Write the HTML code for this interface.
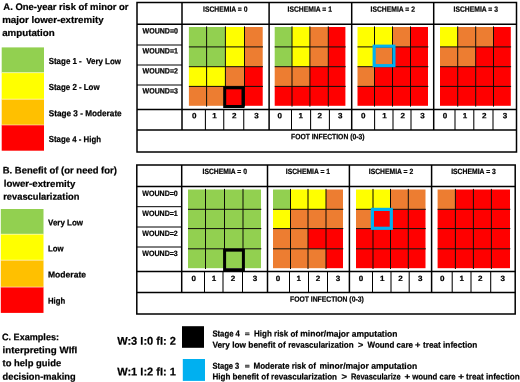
<!DOCTYPE html>
<html><head><meta charset="utf-8"><title>WIfI</title>
<style>html,body{margin:0;padding:0;background:#fff}svg{display:block}text{white-space:pre;stroke:#000;stroke-width:0.22px;stroke-linejoin:round}</style></head>
<body>
<svg width="520" height="382" viewBox="0 0 520 382" font-family='"Liberation Sans", sans-serif' font-weight="bold" fill="#000" text-rendering="geometricPrecision">
<rect x="0.00" y="0.00" width="520.00" height="382.00" fill="#fff"/>
<text x="3.30" y="9.95" font-size="9.50" textLength="125.20" lengthAdjust="spacingAndGlyphs" transform="rotate(0.06 3.30 9.95)">A. One-year risk of minor or</text>
<text x="2.20" y="22.95" font-size="9.50" textLength="101.40" lengthAdjust="spacingAndGlyphs" transform="rotate(0.06 2.20 22.95)">major lower-extremity</text>
<text x="2.20" y="36.05" font-size="9.50" textLength="52.50" lengthAdjust="spacingAndGlyphs" transform="rotate(0.06 2.20 36.05)">amputation</text>
<rect x="1.70" y="47.40" width="42.30" height="25.30" fill="#92D050"/>
<rect x="1.70" y="72.70" width="42.30" height="26.50" fill="#FFFF00"/>
<rect x="1.70" y="99.20" width="42.30" height="25.80" fill="#FFC000"/>
<rect x="1.70" y="125.00" width="42.30" height="25.70" fill="#FF0000"/>
<line x1="2.00" y1="72.70" x2="44.00" y2="72.70" stroke="#ffffff" stroke-width="0.5"/>
<line x1="2.00" y1="99.20" x2="44.00" y2="99.20" stroke="#ffffff" stroke-width="0.5"/>
<line x1="2.00" y1="125.00" x2="44.00" y2="125.00" stroke="#ffffff" stroke-width="0.5"/>
<text x="48.70" y="64.08" font-size="8.73" textLength="72.30" lengthAdjust="spacingAndGlyphs" transform="rotate(0.06 48.70 64.08)">Stage 1 -  Very Low</text>
<text x="48.70" y="90.03" font-size="8.73" textLength="50.90" lengthAdjust="spacingAndGlyphs" transform="rotate(0.06 48.70 90.03)">Stage 2 - Low</text>
<text x="48.70" y="116.17" font-size="8.73" textLength="73.00" lengthAdjust="spacingAndGlyphs" transform="rotate(0.06 48.70 116.17)">Stage 3 - Moderate</text>
<text x="48.70" y="142.12" font-size="8.73" textLength="52.30" lengthAdjust="spacingAndGlyphs" transform="rotate(0.06 48.70 142.12)">Stage 4 - High</text>
<text x="2.70" y="173.45" font-size="9.50" textLength="114.20" lengthAdjust="spacingAndGlyphs" transform="rotate(0.06 2.70 173.45)">B. Benefit of (or need for)</text>
<text x="3.80" y="186.85" font-size="9.50" textLength="71.60" lengthAdjust="spacingAndGlyphs" transform="rotate(0.06 3.80 186.85)">lower-extremity</text>
<text x="3.20" y="199.65" font-size="9.50" textLength="76.20" lengthAdjust="spacingAndGlyphs" transform="rotate(0.06 3.20 199.65)">revascularization</text>
<rect x="0.80" y="209.00" width="42.70" height="25.20" fill="#92D050"/>
<rect x="0.80" y="234.20" width="42.70" height="26.00" fill="#FFFF00"/>
<rect x="0.80" y="260.20" width="42.70" height="26.90" fill="#FFC000"/>
<rect x="0.80" y="287.10" width="42.70" height="25.80" fill="#FF0000"/>
<line x1="0.80" y1="234.20" x2="43.50" y2="234.20" stroke="#ffffff" stroke-width="0.5"/>
<line x1="0.80" y1="260.20" x2="43.50" y2="260.20" stroke="#ffffff" stroke-width="0.5"/>
<line x1="0.80" y1="287.10" x2="43.50" y2="287.10" stroke="#ffffff" stroke-width="0.5"/>
<text x="48.00" y="225.53" font-size="8.73" textLength="35.00" lengthAdjust="spacingAndGlyphs" transform="rotate(0.06 48.00 225.53)">Very Low</text>
<text x="48.00" y="251.43" font-size="8.73" textLength="15.60" lengthAdjust="spacingAndGlyphs" transform="rotate(0.06 48.00 251.43)">Low</text>
<text x="48.00" y="277.52" font-size="8.73" textLength="38.00" lengthAdjust="spacingAndGlyphs" transform="rotate(0.06 48.00 277.52)">Moderate</text>
<text x="48.00" y="303.82" font-size="8.73" textLength="17.20" lengthAdjust="spacingAndGlyphs" transform="rotate(0.06 48.00 303.82)">High</text>
<text x="2.00" y="340.15" font-size="9.50" textLength="57.00" lengthAdjust="spacingAndGlyphs" transform="rotate(0.06 2.00 340.15)">C. Examples:</text>
<text x="2.60" y="353.15" font-size="9.50" textLength="74.70" lengthAdjust="spacingAndGlyphs" transform="rotate(0.06 2.60 353.15)">interpreting WIfI</text>
<text x="2.60" y="366.15" font-size="9.50" textLength="58.60" lengthAdjust="spacingAndGlyphs" transform="rotate(0.06 2.60 366.15)">to help guide</text>
<text x="2.60" y="379.65" font-size="9.50" textLength="73.10" lengthAdjust="spacingAndGlyphs" transform="rotate(0.06 2.60 379.65)">decision-making</text>
<rect x="137.00" y="2.50" width="379.50" height="149.50" fill="#fff"/>
<rect x="188.90" y="27.00" width="17.70" height="19.90" fill="#92D050"/>
<rect x="206.60" y="27.00" width="18.80" height="19.90" fill="#92D050"/>
<rect x="225.40" y="27.00" width="19.10" height="19.90" fill="#FFFF00"/>
<rect x="244.50" y="27.00" width="18.20" height="19.90" fill="#ED7D31"/>
<rect x="188.90" y="46.90" width="17.70" height="19.80" fill="#92D050"/>
<rect x="206.60" y="46.90" width="18.80" height="19.80" fill="#92D050"/>
<rect x="225.40" y="46.90" width="19.10" height="19.80" fill="#FFFF00"/>
<rect x="244.50" y="46.90" width="18.20" height="19.80" fill="#ED7D31"/>
<rect x="188.90" y="66.70" width="17.70" height="19.70" fill="#FFFF00"/>
<rect x="206.60" y="66.70" width="18.80" height="19.70" fill="#FFFF00"/>
<rect x="225.40" y="66.70" width="19.10" height="19.70" fill="#ED7D31"/>
<rect x="244.50" y="66.70" width="18.20" height="19.70" fill="#FF0000"/>
<rect x="188.90" y="86.40" width="17.70" height="19.40" fill="#ED7D31"/>
<rect x="206.60" y="86.40" width="18.80" height="19.40" fill="#ED7D31"/>
<rect x="225.40" y="86.40" width="19.10" height="19.40" fill="#FF0000"/>
<rect x="244.50" y="86.40" width="18.20" height="19.40" fill="#FF0000"/>
<line x1="206.60" y1="26.40" x2="206.60" y2="106.60" stroke="#0c0a04" stroke-width="1.0"/>
<line x1="225.40" y1="26.40" x2="225.40" y2="106.60" stroke="#0c0a04" stroke-width="1.0"/>
<line x1="244.50" y1="26.40" x2="244.50" y2="106.60" stroke="#0c0a04" stroke-width="1.0"/>
<line x1="188.90" y1="46.90" x2="263.00" y2="46.90" stroke="#0c0a04" stroke-width="1.0"/>
<line x1="188.90" y1="66.70" x2="263.00" y2="66.70" stroke="#0c0a04" stroke-width="1.0"/>
<line x1="188.90" y1="86.40" x2="263.00" y2="86.40" stroke="#0c0a04" stroke-width="1.0"/>
<rect x="274.70" y="27.00" width="17.30" height="19.90" fill="#92D050"/>
<rect x="292.00" y="27.00" width="17.90" height="19.90" fill="#FFFF00"/>
<rect x="309.90" y="27.00" width="18.40" height="19.90" fill="#ED7D31"/>
<rect x="328.30" y="27.00" width="17.10" height="19.90" fill="#FF0000"/>
<rect x="274.70" y="46.90" width="17.30" height="19.80" fill="#92D050"/>
<rect x="292.00" y="46.90" width="17.90" height="19.80" fill="#FFFF00"/>
<rect x="309.90" y="46.90" width="18.40" height="19.80" fill="#ED7D31"/>
<rect x="328.30" y="46.90" width="17.10" height="19.80" fill="#FF0000"/>
<rect x="274.70" y="66.70" width="17.30" height="19.70" fill="#ED7D31"/>
<rect x="292.00" y="66.70" width="17.90" height="19.70" fill="#ED7D31"/>
<rect x="309.90" y="66.70" width="18.40" height="19.70" fill="#FF0000"/>
<rect x="328.30" y="66.70" width="17.10" height="19.70" fill="#FF0000"/>
<rect x="274.70" y="86.40" width="17.30" height="19.40" fill="#FF0000"/>
<rect x="292.00" y="86.40" width="17.90" height="19.40" fill="#FF0000"/>
<rect x="309.90" y="86.40" width="18.40" height="19.40" fill="#FF0000"/>
<rect x="328.30" y="86.40" width="17.10" height="19.40" fill="#FF0000"/>
<line x1="292.00" y1="26.40" x2="292.00" y2="106.60" stroke="#0c0a04" stroke-width="1.0"/>
<line x1="309.90" y1="26.40" x2="309.90" y2="106.60" stroke="#0c0a04" stroke-width="1.0"/>
<line x1="328.30" y1="26.40" x2="328.30" y2="106.60" stroke="#0c0a04" stroke-width="1.0"/>
<line x1="274.70" y1="46.90" x2="345.70" y2="46.90" stroke="#0c0a04" stroke-width="1.0"/>
<line x1="274.70" y1="66.70" x2="345.70" y2="66.70" stroke="#0c0a04" stroke-width="1.0"/>
<line x1="274.70" y1="86.40" x2="345.70" y2="86.40" stroke="#0c0a04" stroke-width="1.0"/>
<rect x="357.50" y="27.00" width="17.00" height="19.90" fill="#FFFF00"/>
<rect x="374.50" y="27.00" width="18.00" height="19.90" fill="#FFFF00"/>
<rect x="392.50" y="27.00" width="18.00" height="19.90" fill="#ED7D31"/>
<rect x="410.50" y="27.00" width="17.50" height="19.90" fill="#FF0000"/>
<rect x="357.50" y="46.90" width="17.00" height="19.80" fill="#FFFF00"/>
<rect x="374.50" y="46.90" width="18.00" height="19.80" fill="#ED7D31"/>
<rect x="392.50" y="46.90" width="18.00" height="19.80" fill="#FF0000"/>
<rect x="410.50" y="46.90" width="17.50" height="19.80" fill="#FF0000"/>
<rect x="357.50" y="66.70" width="17.00" height="19.70" fill="#ED7D31"/>
<rect x="374.50" y="66.70" width="18.00" height="19.70" fill="#FF0000"/>
<rect x="392.50" y="66.70" width="18.00" height="19.70" fill="#FF0000"/>
<rect x="410.50" y="66.70" width="17.50" height="19.70" fill="#FF0000"/>
<rect x="357.50" y="86.40" width="17.00" height="19.40" fill="#FF0000"/>
<rect x="374.50" y="86.40" width="18.00" height="19.40" fill="#FF0000"/>
<rect x="392.50" y="86.40" width="18.00" height="19.40" fill="#FF0000"/>
<rect x="410.50" y="86.40" width="17.50" height="19.40" fill="#FF0000"/>
<line x1="374.50" y1="26.40" x2="374.50" y2="106.60" stroke="#0c0a04" stroke-width="1.0"/>
<line x1="392.50" y1="26.40" x2="392.50" y2="106.60" stroke="#0c0a04" stroke-width="1.0"/>
<line x1="410.50" y1="26.40" x2="410.50" y2="106.60" stroke="#0c0a04" stroke-width="1.0"/>
<line x1="357.50" y1="46.90" x2="428.30" y2="46.90" stroke="#0c0a04" stroke-width="1.0"/>
<line x1="357.50" y1="66.70" x2="428.30" y2="66.70" stroke="#0c0a04" stroke-width="1.0"/>
<line x1="357.50" y1="86.40" x2="428.30" y2="86.40" stroke="#0c0a04" stroke-width="1.0"/>
<rect x="440.00" y="27.00" width="17.70" height="19.90" fill="#FFFF00"/>
<rect x="457.70" y="27.00" width="18.00" height="19.90" fill="#ED7D31"/>
<rect x="475.70" y="27.00" width="17.80" height="19.90" fill="#ED7D31"/>
<rect x="493.50" y="27.00" width="17.30" height="19.90" fill="#FF0000"/>
<rect x="440.00" y="46.90" width="17.70" height="19.80" fill="#ED7D31"/>
<rect x="457.70" y="46.90" width="18.00" height="19.80" fill="#ED7D31"/>
<rect x="475.70" y="46.90" width="17.80" height="19.80" fill="#FF0000"/>
<rect x="493.50" y="46.90" width="17.30" height="19.80" fill="#FF0000"/>
<rect x="440.00" y="66.70" width="17.70" height="19.70" fill="#FF0000"/>
<rect x="457.70" y="66.70" width="18.00" height="19.70" fill="#FF0000"/>
<rect x="475.70" y="66.70" width="17.80" height="19.70" fill="#FF0000"/>
<rect x="493.50" y="66.70" width="17.30" height="19.70" fill="#FF0000"/>
<rect x="440.00" y="86.40" width="17.70" height="19.40" fill="#FF0000"/>
<rect x="457.70" y="86.40" width="18.00" height="19.40" fill="#FF0000"/>
<rect x="475.70" y="86.40" width="17.80" height="19.40" fill="#FF0000"/>
<rect x="493.50" y="86.40" width="17.30" height="19.40" fill="#FF0000"/>
<line x1="457.70" y1="26.40" x2="457.70" y2="106.60" stroke="#0c0a04" stroke-width="1.0"/>
<line x1="475.70" y1="26.40" x2="475.70" y2="106.60" stroke="#0c0a04" stroke-width="1.0"/>
<line x1="493.50" y1="26.40" x2="493.50" y2="106.60" stroke="#0c0a04" stroke-width="1.0"/>
<line x1="440.00" y1="46.90" x2="511.10" y2="46.90" stroke="#0c0a04" stroke-width="1.0"/>
<line x1="440.00" y1="66.70" x2="511.10" y2="66.70" stroke="#0c0a04" stroke-width="1.0"/>
<line x1="440.00" y1="86.40" x2="511.10" y2="86.40" stroke="#0c0a04" stroke-width="1.0"/>
<rect x="137.00" y="2.50" width="379.50" height="149.50" fill="none" stroke="#000" stroke-width="1.5"/>
<line x1="137.00" y1="24.15" x2="516.50" y2="24.15" stroke="#000" stroke-width="1.5"/>
<line x1="137.00" y1="45.00" x2="182.00" y2="45.00" stroke="#000" stroke-width="1.0"/>
<line x1="137.00" y1="65.00" x2="182.00" y2="65.00" stroke="#000" stroke-width="1.0"/>
<line x1="137.00" y1="85.00" x2="182.00" y2="85.00" stroke="#000" stroke-width="1.0"/>
<line x1="137.00" y1="109.50" x2="516.50" y2="109.50" stroke="#000" stroke-width="1.5"/>
<line x1="137.00" y1="130.00" x2="516.50" y2="130.00" stroke="#000" stroke-width="1.5"/>
<line x1="182.00" y1="2.50" x2="182.00" y2="130.00" stroke="#000" stroke-width="1.5"/>
<line x1="269.10" y1="2.50" x2="269.10" y2="130.00" stroke="#000" stroke-width="1.5"/>
<line x1="351.70" y1="2.50" x2="351.70" y2="130.00" stroke="#000" stroke-width="1.5"/>
<line x1="433.70" y1="2.50" x2="433.70" y2="130.00" stroke="#000" stroke-width="1.5"/>
<line x1="205.40" y1="109.50" x2="205.40" y2="130.00" stroke="#000" stroke-width="1.05"/>
<line x1="223.75" y1="109.50" x2="223.75" y2="130.00" stroke="#000" stroke-width="1.05"/>
<line x1="243.75" y1="109.50" x2="243.75" y2="130.00" stroke="#000" stroke-width="1.05"/>
<line x1="291.50" y1="109.50" x2="291.50" y2="130.00" stroke="#000" stroke-width="1.05"/>
<line x1="310.60" y1="109.50" x2="310.60" y2="130.00" stroke="#000" stroke-width="1.05"/>
<line x1="329.40" y1="109.50" x2="329.40" y2="130.00" stroke="#000" stroke-width="1.05"/>
<line x1="374.60" y1="109.50" x2="374.60" y2="130.00" stroke="#000" stroke-width="1.05"/>
<line x1="393.00" y1="109.50" x2="393.00" y2="130.00" stroke="#000" stroke-width="1.05"/>
<line x1="411.00" y1="109.50" x2="411.00" y2="130.00" stroke="#000" stroke-width="1.05"/>
<line x1="455.00" y1="109.50" x2="455.00" y2="130.00" stroke="#000" stroke-width="1.05"/>
<line x1="473.80" y1="109.50" x2="473.80" y2="130.00" stroke="#000" stroke-width="1.05"/>
<line x1="493.00" y1="109.50" x2="493.00" y2="130.00" stroke="#000" stroke-width="1.05"/>
<text x="194.25" y="118.35" font-size="7.6" text-anchor="middle" transform="rotate(0.06 194.25 115.60) translate(194.25 0) scale(1.06 1) translate(-194.25 0)">0</text>
<text x="214.50" y="118.35" font-size="7.6" text-anchor="middle" transform="rotate(0.06 214.50 115.60) translate(214.50 0) scale(1.06 1) translate(-214.50 0)">1</text>
<text x="234.20" y="118.35" font-size="7.6" text-anchor="middle" transform="rotate(0.06 234.20 115.60) translate(234.20 0) scale(1.06 1) translate(-234.20 0)">2</text>
<text x="256.40" y="118.35" font-size="7.6" text-anchor="middle" transform="rotate(0.06 256.40 115.60) translate(256.40 0) scale(1.06 1) translate(-256.40 0)">3</text>
<text x="279.80" y="118.35" font-size="7.6" text-anchor="middle" transform="rotate(0.06 279.80 115.60) translate(279.80 0) scale(1.06 1) translate(-279.80 0)">0</text>
<text x="300.80" y="118.35" font-size="7.6" text-anchor="middle" transform="rotate(0.06 300.80 115.60) translate(300.80 0) scale(1.06 1) translate(-300.80 0)">1</text>
<text x="319.80" y="118.35" font-size="7.6" text-anchor="middle" transform="rotate(0.06 319.80 115.60) translate(319.80 0) scale(1.06 1) translate(-319.80 0)">2</text>
<text x="340.20" y="118.35" font-size="7.6" text-anchor="middle" transform="rotate(0.06 340.20 115.60) translate(340.20 0) scale(1.06 1) translate(-340.20 0)">3</text>
<text x="363.20" y="118.35" font-size="7.6" text-anchor="middle" transform="rotate(0.06 363.20 115.60) translate(363.20 0) scale(1.06 1) translate(-363.20 0)">0</text>
<text x="384.50" y="118.35" font-size="7.6" text-anchor="middle" transform="rotate(0.06 384.50 115.60) translate(384.50 0) scale(1.06 1) translate(-384.50 0)">1</text>
<text x="402.80" y="118.35" font-size="7.6" text-anchor="middle" transform="rotate(0.06 402.80 115.60) translate(402.80 0) scale(1.06 1) translate(-402.80 0)">2</text>
<text x="422.40" y="118.35" font-size="7.6" text-anchor="middle" transform="rotate(0.06 422.40 115.60) translate(422.40 0) scale(1.06 1) translate(-422.40 0)">3</text>
<text x="445.00" y="118.35" font-size="7.6" text-anchor="middle" transform="rotate(0.06 445.00 115.60) translate(445.00 0) scale(1.06 1) translate(-445.00 0)">0</text>
<text x="465.00" y="118.35" font-size="7.6" text-anchor="middle" transform="rotate(0.06 465.00 115.60) translate(465.00 0) scale(1.06 1) translate(-465.00 0)">1</text>
<text x="484.20" y="118.35" font-size="7.6" text-anchor="middle" transform="rotate(0.06 484.20 115.60) translate(484.20 0) scale(1.06 1) translate(-484.20 0)">2</text>
<text x="505.00" y="118.35" font-size="7.6" text-anchor="middle" transform="rotate(0.06 505.00 115.60) translate(505.00 0) scale(1.06 1) translate(-505.00 0)">3</text>
<text x="203.00" y="11.75" font-size="7.68" textLength="44.50" lengthAdjust="spacingAndGlyphs" transform="rotate(0.06 203.00 11.75)">ISCHEMIA = 0</text>
<text x="287.50" y="11.75" font-size="7.68" textLength="44.50" lengthAdjust="spacingAndGlyphs" transform="rotate(0.06 287.50 11.75)">ISCHEMIA = 1</text>
<text x="370.50" y="11.75" font-size="7.68" textLength="44.50" lengthAdjust="spacingAndGlyphs" transform="rotate(0.06 370.50 11.75)">ISCHEMIA = 2</text>
<text x="453.50" y="11.75" font-size="7.68" textLength="44.50" lengthAdjust="spacingAndGlyphs" transform="rotate(0.06 453.50 11.75)">ISCHEMIA = 3</text>
<text x="142.50" y="33.50" font-size="7.68" textLength="35.50" lengthAdjust="spacingAndGlyphs" transform="rotate(0.06 142.50 33.50)">WOUND=0</text>
<text x="142.50" y="53.50" font-size="7.68" textLength="35.50" lengthAdjust="spacingAndGlyphs" transform="rotate(0.06 142.50 53.50)">WOUND=1</text>
<text x="142.50" y="73.50" font-size="7.68" textLength="35.50" lengthAdjust="spacingAndGlyphs" transform="rotate(0.06 142.50 73.50)">WOUND=2</text>
<text x="142.50" y="93.50" font-size="7.68" textLength="35.50" lengthAdjust="spacingAndGlyphs" transform="rotate(0.06 142.50 93.50)">WOUND=3</text>
<text x="291.00" y="139.25" font-size="7.68" textLength="73.50" lengthAdjust="spacingAndGlyphs" transform="rotate(0.06 291.00 139.25)">FOOT INFECTION (0-3)</text>
<rect x="224.70" y="87.80" width="18.30" height="18.70" fill="none" stroke="#000" stroke-width="3"/>
<rect x="374.15" y="46.15" width="19.80" height="19.50" fill="none" stroke="#00B0F0" stroke-width="3.1"/>
<rect x="136.80" y="165.00" width="378.40" height="149.00" fill="#fff"/>
<rect x="188.00" y="189.50" width="17.50" height="19.80" fill="#92D050"/>
<rect x="205.50" y="189.50" width="19.00" height="19.80" fill="#92D050"/>
<rect x="224.50" y="189.50" width="18.50" height="19.80" fill="#92D050"/>
<rect x="243.00" y="189.50" width="18.00" height="19.80" fill="#92D050"/>
<rect x="188.00" y="209.30" width="17.50" height="19.30" fill="#92D050"/>
<rect x="205.50" y="209.30" width="19.00" height="19.30" fill="#92D050"/>
<rect x="224.50" y="209.30" width="18.50" height="19.30" fill="#92D050"/>
<rect x="243.00" y="209.30" width="18.00" height="19.30" fill="#92D050"/>
<rect x="188.00" y="228.60" width="17.50" height="20.20" fill="#92D050"/>
<rect x="205.50" y="228.60" width="19.00" height="20.20" fill="#92D050"/>
<rect x="224.50" y="228.60" width="18.50" height="20.20" fill="#92D050"/>
<rect x="243.00" y="228.60" width="18.00" height="20.20" fill="#92D050"/>
<rect x="188.00" y="248.80" width="17.50" height="19.40" fill="#92D050"/>
<rect x="205.50" y="248.80" width="19.00" height="19.40" fill="#92D050"/>
<rect x="224.50" y="248.80" width="18.50" height="19.40" fill="#92D050"/>
<rect x="243.00" y="248.80" width="18.00" height="19.40" fill="#92D050"/>
<line x1="205.50" y1="188.90" x2="205.50" y2="269.00" stroke="#0c0a04" stroke-width="1.0"/>
<line x1="224.50" y1="188.90" x2="224.50" y2="269.00" stroke="#0c0a04" stroke-width="1.0"/>
<line x1="243.00" y1="188.90" x2="243.00" y2="269.00" stroke="#0c0a04" stroke-width="1.0"/>
<line x1="188.00" y1="209.30" x2="261.30" y2="209.30" stroke="#0c0a04" stroke-width="1.0"/>
<line x1="188.00" y1="228.60" x2="261.30" y2="228.60" stroke="#0c0a04" stroke-width="1.0"/>
<line x1="188.00" y1="248.80" x2="261.30" y2="248.80" stroke="#0c0a04" stroke-width="1.0"/>
<rect x="273.00" y="189.50" width="17.50" height="19.80" fill="#92D050"/>
<rect x="290.50" y="189.50" width="17.50" height="19.80" fill="#FFFF00"/>
<rect x="308.00" y="189.50" width="18.00" height="19.80" fill="#FFFF00"/>
<rect x="326.00" y="189.50" width="17.00" height="19.80" fill="#ED7D31"/>
<rect x="273.00" y="209.30" width="17.50" height="19.30" fill="#FFFF00"/>
<rect x="290.50" y="209.30" width="17.50" height="19.30" fill="#ED7D31"/>
<rect x="308.00" y="209.30" width="18.00" height="19.30" fill="#ED7D31"/>
<rect x="326.00" y="209.30" width="17.00" height="19.30" fill="#ED7D31"/>
<rect x="273.00" y="228.60" width="17.50" height="20.20" fill="#ED7D31"/>
<rect x="290.50" y="228.60" width="17.50" height="20.20" fill="#ED7D31"/>
<rect x="308.00" y="228.60" width="18.00" height="20.20" fill="#FF0000"/>
<rect x="326.00" y="228.60" width="17.00" height="20.20" fill="#FF0000"/>
<rect x="273.00" y="248.80" width="17.50" height="19.40" fill="#ED7D31"/>
<rect x="290.50" y="248.80" width="17.50" height="19.40" fill="#ED7D31"/>
<rect x="308.00" y="248.80" width="18.00" height="19.40" fill="#ED7D31"/>
<rect x="326.00" y="248.80" width="17.00" height="19.40" fill="#FF0000"/>
<line x1="290.50" y1="188.90" x2="290.50" y2="269.00" stroke="#0c0a04" stroke-width="1.0"/>
<line x1="308.00" y1="188.90" x2="308.00" y2="269.00" stroke="#0c0a04" stroke-width="1.0"/>
<line x1="326.00" y1="188.90" x2="326.00" y2="269.00" stroke="#0c0a04" stroke-width="1.0"/>
<line x1="273.00" y1="209.30" x2="343.30" y2="209.30" stroke="#0c0a04" stroke-width="1.0"/>
<line x1="273.00" y1="228.60" x2="343.30" y2="228.60" stroke="#0c0a04" stroke-width="1.0"/>
<line x1="273.00" y1="248.80" x2="343.30" y2="248.80" stroke="#0c0a04" stroke-width="1.0"/>
<rect x="356.00" y="189.50" width="17.00" height="19.80" fill="#FFFF00"/>
<rect x="373.00" y="189.50" width="17.50" height="19.80" fill="#FFFF00"/>
<rect x="390.50" y="189.50" width="17.80" height="19.80" fill="#ED7D31"/>
<rect x="408.30" y="189.50" width="17.20" height="19.80" fill="#ED7D31"/>
<rect x="356.00" y="209.30" width="17.00" height="19.30" fill="#ED7D31"/>
<rect x="373.00" y="209.30" width="17.50" height="19.30" fill="#FF0000"/>
<rect x="390.50" y="209.30" width="17.80" height="19.30" fill="#FF0000"/>
<rect x="408.30" y="209.30" width="17.20" height="19.30" fill="#FF0000"/>
<rect x="356.00" y="228.60" width="17.00" height="20.20" fill="#FF0000"/>
<rect x="373.00" y="228.60" width="17.50" height="20.20" fill="#FF0000"/>
<rect x="390.50" y="228.60" width="17.80" height="20.20" fill="#FF0000"/>
<rect x="408.30" y="228.60" width="17.20" height="20.20" fill="#FF0000"/>
<rect x="356.00" y="248.80" width="17.00" height="19.40" fill="#FF0000"/>
<rect x="373.00" y="248.80" width="17.50" height="19.40" fill="#FF0000"/>
<rect x="390.50" y="248.80" width="17.80" height="19.40" fill="#FF0000"/>
<rect x="408.30" y="248.80" width="17.20" height="19.40" fill="#FF0000"/>
<line x1="373.00" y1="188.90" x2="373.00" y2="269.00" stroke="#0c0a04" stroke-width="1.0"/>
<line x1="390.50" y1="188.90" x2="390.50" y2="269.00" stroke="#0c0a04" stroke-width="1.0"/>
<line x1="408.30" y1="188.90" x2="408.30" y2="269.00" stroke="#0c0a04" stroke-width="1.0"/>
<line x1="356.00" y1="209.30" x2="425.80" y2="209.30" stroke="#0c0a04" stroke-width="1.0"/>
<line x1="356.00" y1="228.60" x2="425.80" y2="228.60" stroke="#0c0a04" stroke-width="1.0"/>
<line x1="356.00" y1="248.80" x2="425.80" y2="248.80" stroke="#0c0a04" stroke-width="1.0"/>
<rect x="437.60" y="189.50" width="17.80" height="19.80" fill="#ED7D31"/>
<rect x="455.40" y="189.50" width="18.00" height="19.80" fill="#FF0000"/>
<rect x="473.40" y="189.50" width="18.00" height="19.80" fill="#FF0000"/>
<rect x="491.40" y="189.50" width="18.60" height="19.80" fill="#FF0000"/>
<rect x="437.60" y="209.30" width="17.80" height="19.30" fill="#FF0000"/>
<rect x="455.40" y="209.30" width="18.00" height="19.30" fill="#FF0000"/>
<rect x="473.40" y="209.30" width="18.00" height="19.30" fill="#FF0000"/>
<rect x="491.40" y="209.30" width="18.60" height="19.30" fill="#FF0000"/>
<rect x="437.60" y="228.60" width="17.80" height="20.20" fill="#FF0000"/>
<rect x="455.40" y="228.60" width="18.00" height="20.20" fill="#FF0000"/>
<rect x="473.40" y="228.60" width="18.00" height="20.20" fill="#FF0000"/>
<rect x="491.40" y="228.60" width="18.60" height="20.20" fill="#FF0000"/>
<rect x="437.60" y="248.80" width="17.80" height="19.40" fill="#FF0000"/>
<rect x="455.40" y="248.80" width="18.00" height="19.40" fill="#FF0000"/>
<rect x="473.40" y="248.80" width="18.00" height="19.40" fill="#FF0000"/>
<rect x="491.40" y="248.80" width="18.60" height="19.40" fill="#FF0000"/>
<line x1="455.40" y1="188.90" x2="455.40" y2="269.00" stroke="#0c0a04" stroke-width="1.0"/>
<line x1="473.40" y1="188.90" x2="473.40" y2="269.00" stroke="#0c0a04" stroke-width="1.0"/>
<line x1="491.40" y1="188.90" x2="491.40" y2="269.00" stroke="#0c0a04" stroke-width="1.0"/>
<line x1="437.60" y1="209.30" x2="510.30" y2="209.30" stroke="#0c0a04" stroke-width="1.0"/>
<line x1="437.60" y1="228.60" x2="510.30" y2="228.60" stroke="#0c0a04" stroke-width="1.0"/>
<line x1="437.60" y1="248.80" x2="510.30" y2="248.80" stroke="#0c0a04" stroke-width="1.0"/>
<rect x="136.80" y="165.00" width="378.40" height="149.00" fill="none" stroke="#000" stroke-width="1.5"/>
<line x1="136.80" y1="186.50" x2="515.20" y2="186.50" stroke="#000" stroke-width="1.5"/>
<line x1="136.80" y1="206.70" x2="181.70" y2="206.70" stroke="#000" stroke-width="1.0"/>
<line x1="136.80" y1="227.00" x2="181.70" y2="227.00" stroke="#000" stroke-width="1.0"/>
<line x1="136.80" y1="247.00" x2="181.70" y2="247.00" stroke="#000" stroke-width="1.0"/>
<line x1="136.80" y1="271.50" x2="515.20" y2="271.50" stroke="#000" stroke-width="1.5"/>
<line x1="136.80" y1="292.50" x2="515.20" y2="292.50" stroke="#000" stroke-width="1.5"/>
<line x1="181.70" y1="165.00" x2="181.70" y2="292.50" stroke="#000" stroke-width="1.5"/>
<line x1="267.50" y1="165.00" x2="267.50" y2="292.50" stroke="#000" stroke-width="1.5"/>
<line x1="349.40" y1="165.00" x2="349.40" y2="292.50" stroke="#000" stroke-width="1.5"/>
<line x1="431.60" y1="165.00" x2="431.60" y2="292.50" stroke="#000" stroke-width="1.5"/>
<line x1="204.50" y1="271.50" x2="204.50" y2="292.50" stroke="#000" stroke-width="1.05"/>
<line x1="223.00" y1="271.50" x2="223.00" y2="292.50" stroke="#000" stroke-width="1.05"/>
<line x1="242.50" y1="271.50" x2="242.50" y2="292.50" stroke="#000" stroke-width="1.05"/>
<line x1="289.50" y1="271.50" x2="289.50" y2="292.50" stroke="#000" stroke-width="1.05"/>
<line x1="308.50" y1="271.50" x2="308.50" y2="292.50" stroke="#000" stroke-width="1.05"/>
<line x1="327.50" y1="271.50" x2="327.50" y2="292.50" stroke="#000" stroke-width="1.05"/>
<line x1="372.50" y1="271.50" x2="372.50" y2="292.50" stroke="#000" stroke-width="1.05"/>
<line x1="391.00" y1="271.50" x2="391.00" y2="292.50" stroke="#000" stroke-width="1.05"/>
<line x1="409.20" y1="271.50" x2="409.20" y2="292.50" stroke="#000" stroke-width="1.05"/>
<line x1="452.20" y1="271.50" x2="452.20" y2="292.50" stroke="#000" stroke-width="1.05"/>
<line x1="471.00" y1="271.50" x2="471.00" y2="292.50" stroke="#000" stroke-width="1.05"/>
<line x1="490.70" y1="271.50" x2="490.70" y2="292.50" stroke="#000" stroke-width="1.05"/>
<text x="193.75" y="280.95" font-size="7.6" text-anchor="middle" transform="rotate(0.06 193.75 278.20) translate(193.75 0) scale(1.06 1) translate(-193.75 0)">0</text>
<text x="214.00" y="280.95" font-size="7.6" text-anchor="middle" transform="rotate(0.06 214.00 278.20) translate(214.00 0) scale(1.06 1) translate(-214.00 0)">1</text>
<text x="233.00" y="280.95" font-size="7.6" text-anchor="middle" transform="rotate(0.06 233.00 278.20) translate(233.00 0) scale(1.06 1) translate(-233.00 0)">2</text>
<text x="255.00" y="280.95" font-size="7.6" text-anchor="middle" transform="rotate(0.06 255.00 278.20) translate(255.00 0) scale(1.06 1) translate(-255.00 0)">3</text>
<text x="278.00" y="280.95" font-size="7.6" text-anchor="middle" transform="rotate(0.06 278.00 278.20) translate(278.00 0) scale(1.06 1) translate(-278.00 0)">0</text>
<text x="298.75" y="280.95" font-size="7.6" text-anchor="middle" transform="rotate(0.06 298.75 278.20) translate(298.75 0) scale(1.06 1) translate(-298.75 0)">1</text>
<text x="318.00" y="280.95" font-size="7.6" text-anchor="middle" transform="rotate(0.06 318.00 278.20) translate(318.00 0) scale(1.06 1) translate(-318.00 0)">2</text>
<text x="338.00" y="280.95" font-size="7.6" text-anchor="middle" transform="rotate(0.06 338.00 278.20) translate(338.00 0) scale(1.06 1) translate(-338.00 0)">3</text>
<text x="361.00" y="280.95" font-size="7.6" text-anchor="middle" transform="rotate(0.06 361.00 278.20) translate(361.00 0) scale(1.06 1) translate(-361.00 0)">0</text>
<text x="382.30" y="280.95" font-size="7.6" text-anchor="middle" transform="rotate(0.06 382.30 278.20) translate(382.30 0) scale(1.06 1) translate(-382.30 0)">1</text>
<text x="400.50" y="280.95" font-size="7.6" text-anchor="middle" transform="rotate(0.06 400.50 278.20) translate(400.50 0) scale(1.06 1) translate(-400.50 0)">2</text>
<text x="420.30" y="280.95" font-size="7.6" text-anchor="middle" transform="rotate(0.06 420.30 278.20) translate(420.30 0) scale(1.06 1) translate(-420.30 0)">3</text>
<text x="442.20" y="280.95" font-size="7.6" text-anchor="middle" transform="rotate(0.06 442.20 278.20) translate(442.20 0) scale(1.06 1) translate(-442.20 0)">0</text>
<text x="461.80" y="280.95" font-size="7.6" text-anchor="middle" transform="rotate(0.06 461.80 278.20) translate(461.80 0) scale(1.06 1) translate(-461.80 0)">1</text>
<text x="480.30" y="280.95" font-size="7.6" text-anchor="middle" transform="rotate(0.06 480.30 278.20) translate(480.30 0) scale(1.06 1) translate(-480.30 0)">2</text>
<text x="502.70" y="280.95" font-size="7.6" text-anchor="middle" transform="rotate(0.06 502.70 278.20) translate(502.70 0) scale(1.06 1) translate(-502.70 0)">3</text>
<text x="202.50" y="174.05" font-size="7.68" textLength="44.50" lengthAdjust="spacingAndGlyphs" transform="rotate(0.06 202.50 174.05)">ISCHEMIA = 0</text>
<text x="285.75" y="174.05" font-size="7.68" textLength="44.25" lengthAdjust="spacingAndGlyphs" transform="rotate(0.06 285.75 174.05)">ISCHEMIA = 1</text>
<text x="368.75" y="174.05" font-size="7.68" textLength="44.50" lengthAdjust="spacingAndGlyphs" transform="rotate(0.06 368.75 174.05)">ISCHEMIA = 2</text>
<text x="451.20" y="174.05" font-size="7.68" textLength="44.60" lengthAdjust="spacingAndGlyphs" transform="rotate(0.06 451.20 174.05)">ISCHEMIA = 3</text>
<text x="142.30" y="196.00" font-size="7.68" textLength="35.50" lengthAdjust="spacingAndGlyphs" transform="rotate(0.06 142.30 196.00)">WOUND=0</text>
<text x="142.30" y="216.00" font-size="7.68" textLength="35.50" lengthAdjust="spacingAndGlyphs" transform="rotate(0.06 142.30 216.00)">WOUND=1</text>
<text x="142.30" y="236.00" font-size="7.68" textLength="35.50" lengthAdjust="spacingAndGlyphs" transform="rotate(0.06 142.30 236.00)">WOUND=2</text>
<text x="142.30" y="256.00" font-size="7.68" textLength="35.50" lengthAdjust="spacingAndGlyphs" transform="rotate(0.06 142.30 256.00)">WOUND=3</text>
<text x="290.00" y="301.75" font-size="7.68" textLength="73.75" lengthAdjust="spacingAndGlyphs" transform="rotate(0.06 290.00 301.75)">FOOT INFECTION (0-3)</text>
<rect x="224.60" y="250.15" width="18.80" height="19.55" fill="none" stroke="#000" stroke-width="3.0"/>
<rect x="372.40" y="209.40" width="18.90" height="18.90" fill="none" stroke="#00B0F0" stroke-width="3.2"/>
<text x="117.20" y="344.75" font-size="11.31" textLength="58.80" lengthAdjust="spacingAndGlyphs" transform="rotate(0.06 117.20 344.75)">W:3 I:0 fI: 2</text>
<text x="117.20" y="375.45" font-size="11.31" textLength="58.80" lengthAdjust="spacingAndGlyphs" transform="rotate(0.06 117.20 375.45)">W:1 I:2 fI: 1</text>
<rect x="182.00" y="326.20" width="22.00" height="21.60" fill="#000"/>
<rect x="182.80" y="359.00" width="22.20" height="21.90" fill="#00B0F0"/>
<text x="212.40" y="336.60" font-size="8.66" textLength="27.50" lengthAdjust="spacingAndGlyphs" transform="rotate(0.06 212.40 336.60)">Stage 4</text>
<text x="244.90" y="335.85" font-size="6.0" textLength="4.50" lengthAdjust="spacingAndGlyphs" transform="rotate(0.06 244.90 336.60)" style="fill:#3c3c3c;stroke:#3c3c3c;stroke-width:0.5px">=</text>
<text x="254.10" y="336.60" font-size="8.66" textLength="43.90" lengthAdjust="spacingAndGlyphs" transform="rotate(0.06 254.10 336.60)">High risk of</text>
<text x="300.30" y="336.60" font-size="8.66" textLength="97.10" lengthAdjust="spacingAndGlyphs" transform="rotate(0.06 300.30 336.60)">minor/major amputation</text>
<text x="212.40" y="347.80" font-size="8.66" textLength="73.30" lengthAdjust="spacingAndGlyphs" transform="rotate(0.06 212.40 347.80)">Very low benefit of</text>
<text x="288.20" y="347.80" font-size="8.66" textLength="65.40" lengthAdjust="spacingAndGlyphs" transform="rotate(0.06 288.20 347.80)">revascularization</text>
<text x="358.00" y="347.80" font-size="8.66" textLength="5.30" lengthAdjust="spacingAndGlyphs" transform="rotate(0.06 358.00 347.80)">&gt;</text>
<text x="367.50" y="347.80" font-size="8.66" textLength="45.50" lengthAdjust="spacingAndGlyphs" transform="rotate(0.06 367.50 347.80)">Wound care</text>
<text x="415.10" y="347.80" font-size="8.66" textLength="5.40" lengthAdjust="spacingAndGlyphs" transform="rotate(0.06 415.10 347.80)">+</text>
<text x="423.00" y="347.80" font-size="8.66" textLength="54.30" lengthAdjust="spacingAndGlyphs" transform="rotate(0.06 423.00 347.80)">treat infection</text>
<text x="212.40" y="368.80" font-size="8.66" textLength="26.90" lengthAdjust="spacingAndGlyphs" transform="rotate(0.06 212.40 368.80)">Stage 3</text>
<text x="244.90" y="368.05" font-size="6.0" textLength="4.50" lengthAdjust="spacingAndGlyphs" transform="rotate(0.06 244.90 368.80)" style="fill:#3c3c3c;stroke:#3c3c3c;stroke-width:0.5px">=</text>
<text x="253.40" y="368.80" font-size="8.66" textLength="62.60" lengthAdjust="spacingAndGlyphs" transform="rotate(0.06 253.40 368.80)">Moderate risk of</text>
<text x="319.40" y="368.80" font-size="8.66" textLength="97.80" lengthAdjust="spacingAndGlyphs" transform="rotate(0.06 319.40 368.80)">minor/major amputation</text>
<text x="212.40" y="379.50" font-size="8.66" textLength="124.60" lengthAdjust="spacingAndGlyphs" transform="rotate(0.06 212.40 379.50)">High benefit of revascularization</text>
<text x="341.40" y="379.50" font-size="8.66" textLength="5.60" lengthAdjust="spacingAndGlyphs" transform="rotate(0.06 341.40 379.50)">&gt;</text>
<text x="350.90" y="379.50" font-size="8.66" textLength="49.70" lengthAdjust="spacingAndGlyphs" transform="rotate(0.06 350.90 379.50)">Revascularize</text>
<text x="404.50" y="379.50" font-size="8.66" textLength="5.80" lengthAdjust="spacingAndGlyphs" transform="rotate(0.06 404.50 379.50)">+</text>
<text x="412.20" y="379.50" font-size="8.66" textLength="43.50" lengthAdjust="spacingAndGlyphs" transform="rotate(0.06 412.20 379.50)">wound care</text>
<text x="458.20" y="379.50" font-size="8.66" textLength="5.80" lengthAdjust="spacingAndGlyphs" transform="rotate(0.06 458.20 379.50)">+</text>
<text x="466.00" y="379.50" font-size="8.66" textLength="53.80" lengthAdjust="spacingAndGlyphs" transform="rotate(0.06 466.00 379.50)">treat infection</text>
</svg>
</body></html>
